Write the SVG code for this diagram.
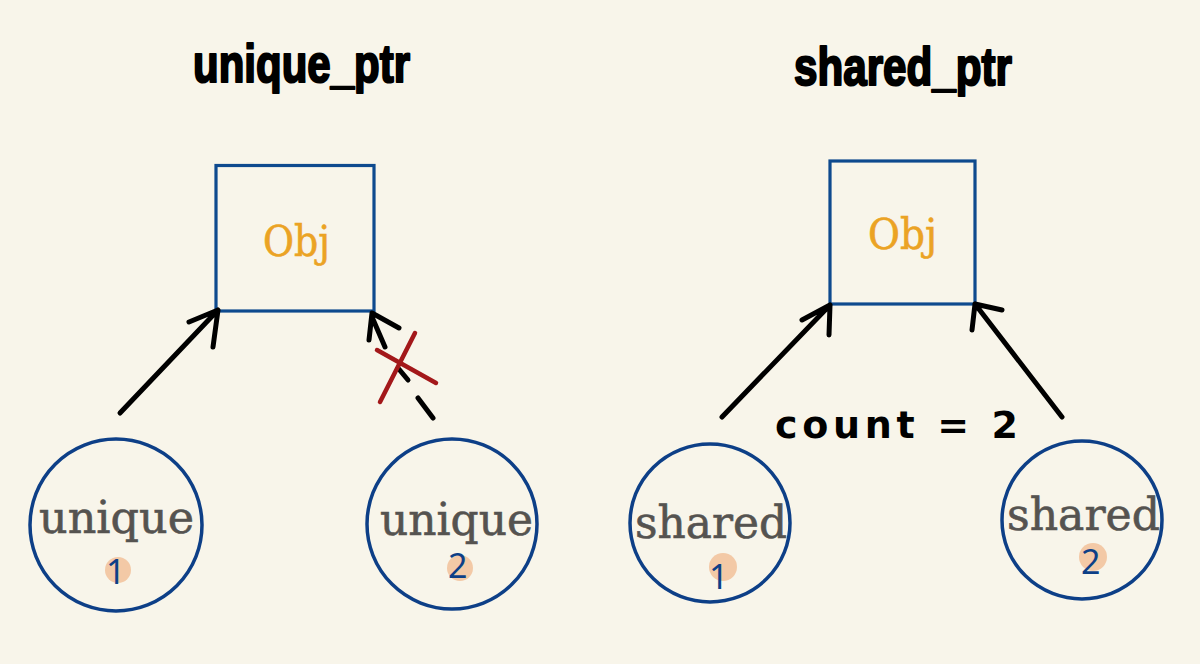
<svg xmlns="http://www.w3.org/2000/svg" width="1200" height="664" viewBox="0 0 1200 664">
<style>
.title{font-family:"Liberation Sans Narrow","Liberation Sans",Arial,sans-serif;font-weight:bold;font-size:54px;fill:#000;stroke:#000;stroke-width:2.2;stroke-linejoin:round;}
.box{fill:none;stroke:#0E4A8E;stroke-width:3.2;}
.ring{fill:none;stroke:#0D3F87;stroke-width:3.5;}
.obj{font-family:"DejaVu Serif",serif;font-size:42px;fill:#EBA324;stroke:#EBA324;stroke-width:0.6;}
.lbl{font-family:"DejaVu Serif",serif;font-size:45px;fill:#555350;stroke:#555350;stroke-width:0.6;}
.dot{fill:#F3C9A6;}
.num{font-family:"Noto Sans","DejaVu Sans",sans-serif;font-size:34px;fill:#0D3F87;}
.arr{fill:none;stroke:#000;stroke-width:5;stroke-linecap:round;stroke-linejoin:round;}
.cross{fill:none;stroke:#A3181A;stroke-width:4.5;stroke-linecap:round;}
.hand{font-family:"DejaVu Sans",sans-serif;font-weight:bold;font-size:38px;fill:#000;}
</style>
<rect width="1200" height="664" fill="#F8F5EA"/>
<g id="title-unique"><text class="title" x="193" y="82" textLength="217" lengthAdjust="spacingAndGlyphs">unique_ptr</text></g>
<g id="title-shared"><text class="title" x="794" y="85" textLength="218" lengthAdjust="spacingAndGlyphs">shared_ptr</text></g>
<g id="obj-unique">
<rect class="box" x="216" y="165.5" width="158" height="145.5"/>
<text class="obj" x="263" y="256" textLength="67" lengthAdjust="spacingAndGlyphs">Obj</text>
</g>
<g id="obj-shared">
<rect class="box" x="830" y="161" width="145" height="143"/>
<text class="obj" x="868" y="249" textLength="69" lengthAdjust="spacingAndGlyphs">Obj</text>
</g>
<g id="unique1">
<ellipse class="ring" cx="116" cy="525" rx="86" ry="86"/>
<text class="lbl" x="39" y="533" textLength="155" lengthAdjust="spacingAndGlyphs">unique</text>
<circle class="dot" cx="118" cy="570" r="13"/>
<text class="num" x="106" y="584">1</text>
</g>
<g id="unique2">
<ellipse class="ring" cx="452" cy="524" rx="85" ry="85"/>
<text class="lbl" x="380" y="535" textLength="153" lengthAdjust="spacingAndGlyphs">unique</text>
<circle class="dot" cx="460" cy="568" r="13"/>
<text class="num" x="448" y="578">2</text>
</g>
<g id="shared1">
<ellipse class="ring" cx="710" cy="523" rx="80" ry="79"/>
<text class="lbl" x="635" y="538" textLength="152" lengthAdjust="spacingAndGlyphs">shared</text>
<circle class="dot" cx="723" cy="567" r="14"/>
<text class="num" x="709" y="589">1</text>
</g>
<g id="shared2">
<ellipse class="ring" cx="1082" cy="520" rx="80" ry="79"/>
<text class="lbl" x="1007" y="530" textLength="153" lengthAdjust="spacingAndGlyphs">shared</text>
<circle class="dot" cx="1093" cy="557" r="14"/>
<text class="num" x="1081" y="574">2</text>
</g>
<g id="connectors">
<path class="arr" d="M120 413 L218 310 M189 322 L218 310 L213 347"/>
<path class="arr" d="M372 317 L385 347 M398 368 L408 380 M418 398 L433 418 M399 328 L372 313 L369 340"/>
<path class="cross" d="M415 333 L380 402 M377 350 L436 383"/>
<path class="arr" d="M722 417 L830 305 M802 320 L830 305 L829 335"/>
<path class="arr" d="M1062 417 L975 304 M1002 310 L975 304 L972 330"/>
</g>
<g id="count-label"><text class="hand" x="775" y="438" textLength="243" lengthAdjust="spacing">count = 2</text></g>
</svg>
